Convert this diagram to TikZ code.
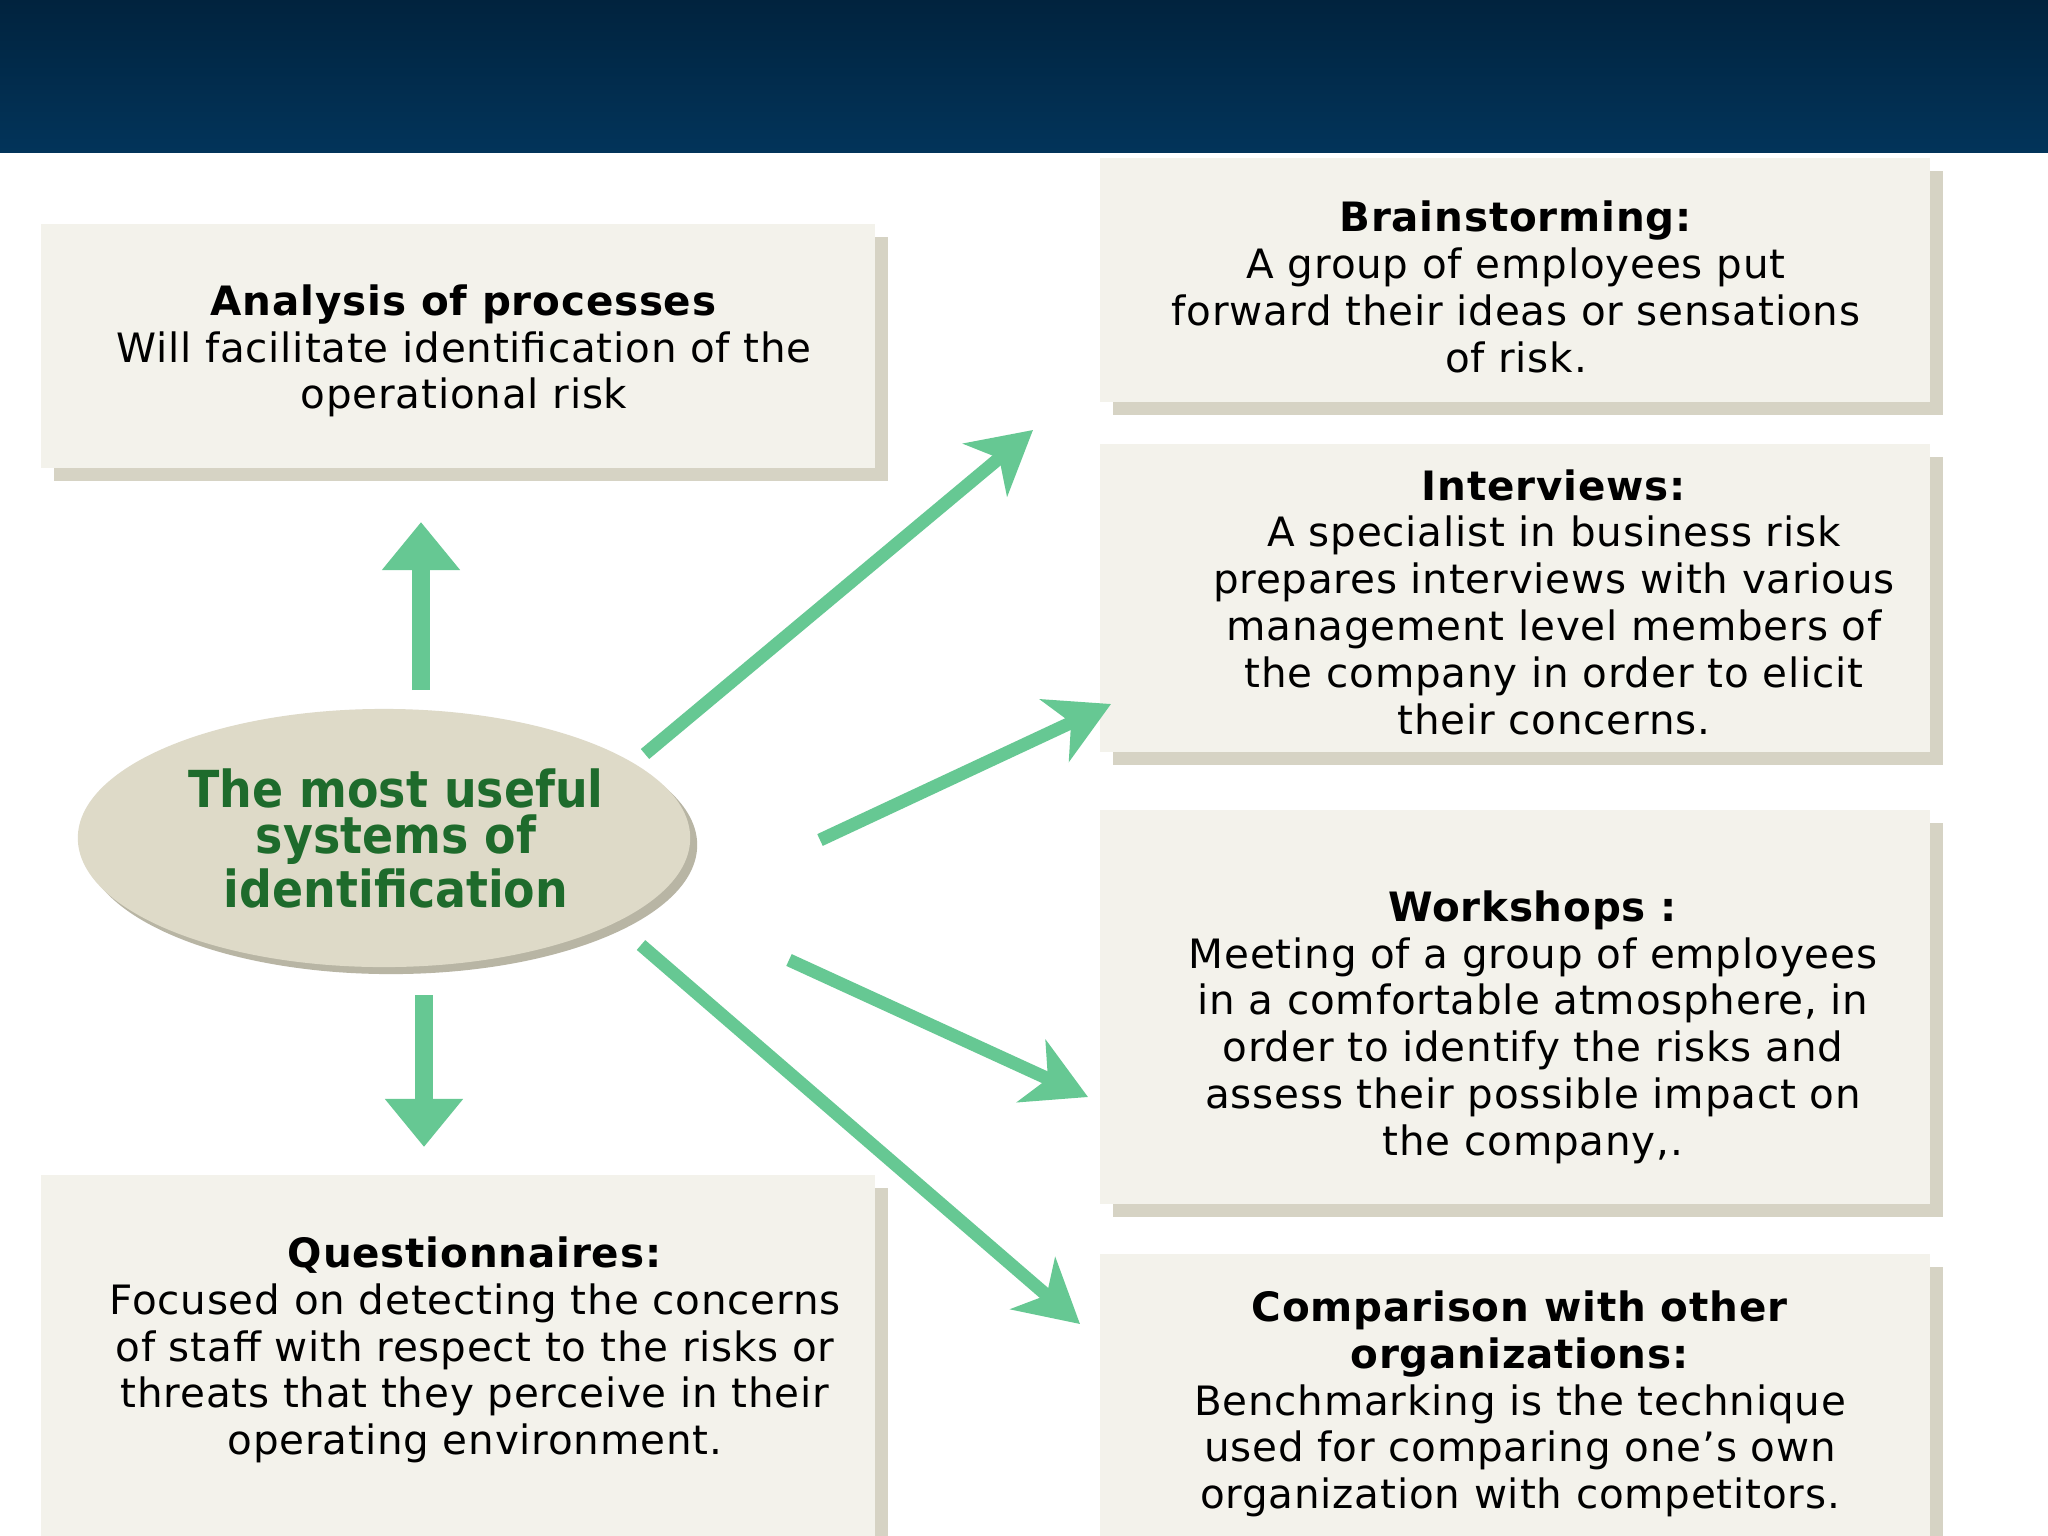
\documentclass[tikz,border=0pt]{standalone}
\usepackage{fontspec}
\setmainfont{DejaVu Sans}
\newfontfamily\corefont[FakeStretch=0.9]{DejaVu Sans}
\usetikzlibrary{arrows.meta,shadows,shapes.geometric}
\definecolor{bannertop}{HTML}{01233E}
\definecolor{bannerbot}{HTML}{02345A}
\definecolor{boxfill}{HTML}{F3F2EB}
\definecolor{boxshade}{HTML}{D6D3C4}
\definecolor{ellfill}{HTML}{DEDAC8}
\definecolor{ellshade}{HTML}{B8B5A4}
\definecolor{coregreen}{HTML}{1E6B2C}
\definecolor{arrgreen}{HTML}{66C893}
\tikzset{
    card/.style={
           rectangle,
           fill=boxfill,
           inner sep=0pt,
           drop shadow={shadow xshift=0.13cm, shadow yshift=-0.13cm, fill=boxshade, opacity=1},
           },
}
\tikzset{
    txt/.style={
           align=center,
           inner sep=0pt,
           font=\addfontfeatures{LetterSpace=2}\fontsize{11.5}{13.3}\selectfont,
           },
}
\tikzset{
    arr/.style={
           draw=arrgreen, line width=0.13cm,
           -{Stealth[length=0.62cm, width=0.68cm, inset=0.18cm]},
           },
}
\tikzset{
    varr/.style={
           draw=arrgreen, line width=0.17cm,
           -{Triangle[length=0.48cm, width=0.75cm]},
           },
}

\begin{document}
\begin{tikzpicture}[x=0.01cm,y=-0.01cm]
\useasboundingbox (0,0) rectangle (2048,1536);
\clip (0,0) rectangle (2048,1536);
\fill[white] (0,0) rectangle (2048,1536);
\fill[top color=bannertop, bottom color=bannerbot] (0,0) rectangle (2048,152);

\node[card, minimum width=8.33cm, minimum height=2.43cm] (ana) at (458,346) {};
\node[card, minimum width=8.30cm, minimum height=2.43cm] (brain) at (1515,280) {};
\node[card, minimum width=8.30cm, minimum height=3.08cm] (inter) at (1515,598) {};
\node[card, minimum width=8.30cm, minimum height=3.94cm] (work) at (1515,1007) {};
\node[card, minimum width=8.33cm, minimum height=3.90cm] (quest) at (458,1370) {};
\node[card, minimum width=8.30cm, minimum height=3.20cm] (comp) at (1515,1414) {};

\node[txt] (ana-t) at (464,351) {\textbf{Analysis of processes}\\Will facilitate identification of the\\operational risk};
\node[txt] (brain-t) at (1516,287) {\textbf{Brainstorming:}\\A group of  employees put\\forward their ideas or sensations\\of risk.};
\node[txt] (inter-t) at (1554,602) {\textbf{Interviews:}\\A specialist in business risk\\prepares interviews with various\\management level members of\\the company  in order to elicit\\their concerns.};
\node[txt] (work-t) at (1533,1027) {\textbf{Workshops :}\\Meeting of a group of employees\\in a comfortable atmosphere, in\\order to identify the risks and\\assess their possible impact on\\the company,.};
\node[txt] (quest-t) at (475,1350) {\textbf{Questionnaires:}\\Focused on detecting the concerns\\of staff with respect to the risks or\\threats that they perceive in their\\operating environment.};
\node[txt] (comp-t) at (1520,1404) {\textbf{Comparison with other}\\\textbf{organizations:}\\Benchmarking is the technique\\used for comparing one's own\\organization with competitors.};

\node[ellipse, fill=ellfill, inner sep=0pt, minimum width=6.12cm, minimum height=2.58cm,
      drop shadow={shadow xshift=0.07cm, shadow yshift=-0.07cm, fill=ellshade, opacity=1}] (core) at (384,838) {};
\node[text=coregreen, align=center, inner sep=0pt,
      font=\corefont\bfseries\fontsize{14.5}{13.3}\selectfont] (core-t) at (396,838)
      {The most useful\\systems of\\identification};

\coordinate (up-s) at (421,690);
\coordinate (up-e) at (421,522);
\coordinate (dn-s) at (424,995);
\coordinate (dn-e) at (424,1147);
\coordinate (brain-s) at (645,754);
\coordinate (brain-e) at (1033,430);
\coordinate (inter-s) at (820,840);
\coordinate (inter-e) at (1111,704);
\coordinate (work-s) at (789,960);
\coordinate (work-e) at (1088,1097);
\coordinate (comp-s) at (641,945);
\coordinate (comp-e) at (1080,1324);

\draw[varr] (up-s)--(up-e);
\draw[varr] (dn-s)--(dn-e);
\draw[arr] (brain-s)--(brain-e);
\draw[arr] (inter-s)--(inter-e);
\draw[arr] (work-s)--(work-e);
\draw[arr] (comp-s)--(comp-e);
\end{tikzpicture}
\end{document}
